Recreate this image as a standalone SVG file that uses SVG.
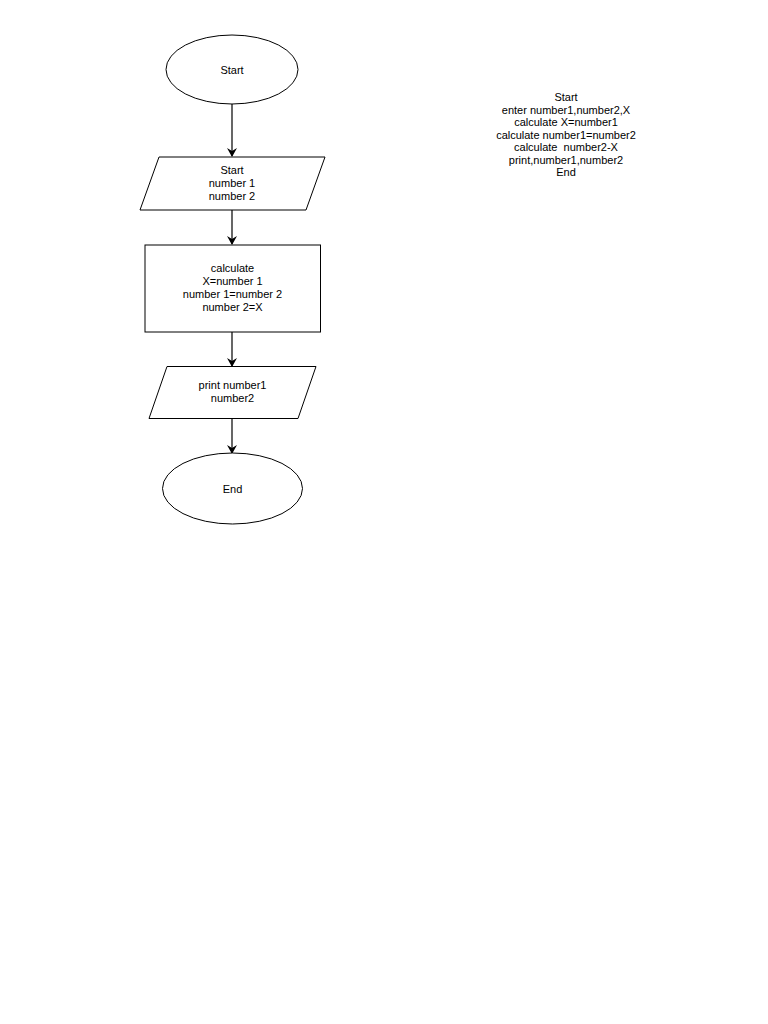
<svg xmlns="http://www.w3.org/2000/svg" width="768" height="1024" viewBox="0 0 768 1024">
<style>
.s{fill:#fff;stroke:#000;stroke-width:1}
.t{font-family:"Liberation Sans",Arial,sans-serif;font-size:11px;fill:#000;text-anchor:middle}
.c{fill:none;stroke:#000;stroke-width:1.2}
</style>
<defs>
<marker id="ah" markerWidth="10" markerHeight="10" refX="8" refY="5" orient="auto" markerUnits="userSpaceOnUse">
<path d="M0,0 L9,5 L0,10 L3,5 Z" fill="#000"/>
</marker>
</defs>
<rect width="768" height="1024" fill="#fff"/>
<g id="connectors">
<line class="c" x1="232" y1="104" x2="232" y2="156" marker-end="url(#ah)"/>
<line class="c" x1="232" y1="210" x2="232" y2="244" marker-end="url(#ah)"/>
<line class="c" x1="232" y1="332" x2="232" y2="366" marker-end="url(#ah)"/>
<line class="c" x1="232" y1="418" x2="232" y2="453" marker-end="url(#ah)"/>
</g>
<g id="start">
<ellipse class="s" cx="232" cy="69.5" rx="66" ry="34.5"/>
<text class="t" x="232" y="73.5">Start</text>
</g>
<g id="input">
<polygon class="s" points="159,157 325,157 306,210 140,210"/>
<text class="t" x="232" y="174">Start</text>
<text class="t" x="232" y="187">number 1</text>
<text class="t" x="232" y="200">number 2</text>
</g>
<g id="calculate">
<rect class="s" x="145" y="245" width="175.5" height="87"/>
<text class="t" x="232.5" y="272">calculate</text>
<text class="t" x="232.5" y="285">X=number 1</text>
<text class="t" x="232.5" y="298">number 1=number 2</text>
<text class="t" x="232.5" y="311">number 2=X</text>
</g>
<g id="output">
<polygon class="s" points="167,366.5 316,366.5 298,418.5 149,418.5"/>
<text class="t" x="232.5" y="389">print number1</text>
<text class="t" x="232.5" y="402">number2</text>
</g>
<g id="end">
<ellipse class="s" cx="232.5" cy="488.5" rx="70" ry="35.5"/>
<text class="t" x="232.5" y="492.5">End</text>
</g>
<g id="notes">
<text class="t" x="566" y="101">Start</text>
<text class="t" x="566" y="113.5">enter number1,number2,X</text>
<text class="t" x="566" y="126">calculate X=number1</text>
<text class="t" x="566" y="138.5">calculate number1=number2</text>
<text class="t" x="566" y="151" xml:space="preserve">calculate  number2-X</text>
<text class="t" x="566" y="163.5">print,number1,number2</text>
<text class="t" x="566" y="176">End</text>
</g>
</svg>
